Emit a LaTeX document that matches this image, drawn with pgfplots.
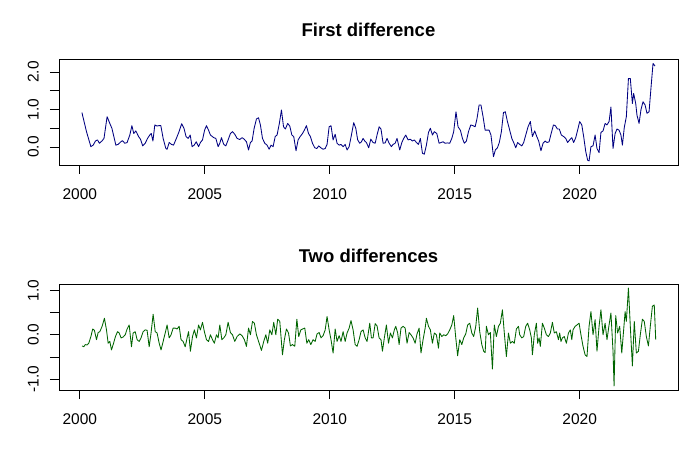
\documentclass[border=0pt]{standalone}
\usepackage{pgfplots}
\pgfplotsset{compat=1.18}
\usepackage{pgfplotstable}
\usepackage{fontspec}
\setmainfont{Liberation Sans}
\definecolor{rnavy}{HTML}{000080}
\definecolor{rdarkgreen}{HTML}{006400}

% k = month index (k=0 is Feb 2000), v = value
\pgfplotstableread{
k v
0 0.92
2.2 0.41
4.3 0.01
5.4 0.05
6.5 0.16
7.5 0.19
8.4 0.10
9.6 0.16
10.6 0.23
12.1 0.81
13.4 0.63
14.4 0.50
16.3 0.05
17.4 0.07
18.7 0.14
19.5 0.17
20.6 0.10
21.7 0.12
23.0 0.32
24.0 0.57
24.9 0.36
25.9 0.43
27.2 0.28
28.1 0.21
29.2 0.03
30.4 0.10
31.5 0.23
32.6 0.32
33.3 0.36
34.1 0.16
35.0 0.59
36.0 0.56
36.9 0.57
37.9 0.57
39.0 0.23
40.3 -0.04
40.9 -0.06
41.9 0.12
43.0 0.07
44.0 0.05
45.2 0.21
46.5 0.39
47.9 0.62
49.0 0.50
50.0 0.28
51.0 0.23
52.0 0.32
52.9 0.01
53.9 0.05
54.9 0.14
56.0 0.01
56.9 0.12
57.9 0.19
58.9 0.45
59.8 0.57
60.8 0.45
61.7 0.32
63.3 0.25
64.3 0.23
65.4 0.01
66.2 0.10
67.0 0.25
68.1 0.07
69.1 0.03
70.2 0.19
71.3 0.36
72.3 0.41
73.4 0.34
74.5 0.23
75.8 0.20
76.9 0.25
77.9 0.21
79.0 0.14
80.0 -0.08
80.9 0.12
81.7 0.16
82.7 0.50
83.8 0.75
84.8 0.78
85.7 0.59
86.7 0.23
87.8 0.10
88.9 0.05
89.9 -0.06
90.8 0.05
91.8 0.01
92.8 0.28
93.7 0.32
94.8 0.63
95.8 0.99
96.8 0.54
97.7 0.48
98.8 0.63
99.8 0.56
100.8 0.32
101.7 0.28
102.8 -0.10
103.8 0.19
104.8 0.28
105.9 0.36
106.8 0.45
107.8 0.57
108.8 0.36
109.7 0.28
110.7 0.10
111.8 -0.02
112.8 -0.04
113.7 0.03
114.7 -0.02
115.8 -0.06
116.8 -0.04
117.7 0.07
118.7 0.54
119.6 0.57
120.6 0.19
121.6 0.34
122.5 0.10
123.5 0.05
124.4 0.07
125.4 0.01
126.4 0.07
127.3 -0.08
128.3 0.01
129.4 0.32
130.5 0.65
131.5 0.50
132.4 0.19
133.4 0.10
134.2 0.14
135.0 0.23
135.8 0.16
136.6 0.12
137.7 -0.02
138.7 0.21
139.8 0.12
140.8 0.10
141.7 0.32
142.7 0.54
143.6 0.48
144.6 0.10
145.6 0.11
146.5 0.23
147.5 0.10
148.6 0.01
149.4 0.07
150.4 0.10
151.3 0.23
152.6 -0.08
153.6 0.12
154.5 0.23
155.5 0.32
156.6 0.19
157.6 0.21
158.7 0.16
159.6 0.19
160.6 0.12
161.6 0.07
162.5 0.23
163.5 -0.17
164.4 -0.19
165.4 0.05
166.4 0.39
167.3 0.50
168.3 0.32
169.2 0.41
170.4 0.36
171.5 0.10
172.4 0.12
173.4 0.14
174.4 0.10
175.5 0.11
176.6 0.10
177.6 0.23
178.5 0.41
179.6 0.94
180.6 0.54
181.7 0.45
182.7 0.23
183.6 0.10
184.6 0.16
185.6 0.41
186.7 0.59
187.8 0.57
188.8 0.54
189.7 0.76
190.7 1.12
191.6 1.12
192.6 0.81
193.6 0.45
194.5 0.45
195.5 0.45
196.4 0.32
197.6 -0.26
198.5 -0.08
199.5 -0.02
200.4 0.12
201.4 0.41
202.4 0.92
203.3 0.94
204.3 0.68
205.4 0.45
206.4 0.23
207.3 0.12
208.3 -0.02
209.2 0.12
210.2 0.07
211.2 0.03
212.1 0.12
213.1 0.32
214.2 0.54
215.3 0.68
216.3 0.28
217.4 0.43
218.4 0.28
219.3 0.16
220.4 -0.10
221.4 0.10
222.4 0.16
223.3 0.12
224.3 0.14
225.2 0.34
226.4 0.59
227.3 0.57
228.3 0.48
229.2 0.48
230.2 0.32
231.3 0.28
232.3 0.23
233.2 0.12
234.2 0.19
235.2 0.25
236.1 0.12
237.1 0.25
238.0 0.45
239.0 0.68
240.0 0.59
240.9 0.28
241.9 -0.12
242.8 -0.35
243.5 -0.37
244.4 0.01
245.4 0.03
246.4 0.32
247.3 -0.04
248.3 -0.15
249.2 0.39
250.2 0.43
251.2 0.63
252.1 0.59
253.1 0.68
254.0 1.07
255.0 -0.04
256.0 0.36
256.9 0.48
257.9 0.45
258.8 0.32
259.5 0.05
260.4 0.52
261.4 0.81
262.4 1.83
263.3 1.83
264.3 1.16
264.9 1.43
265.9 1.16
266.5 0.85
267.5 0.63
268.4 0.99
269.4 1.21
270.4 1.12
271.3 0.90
272.3 0.94
273.2 1.56
274.2 2.23
275.2 2.16
}\firstdiff

\pgfplotstableread{
k v
0.1 -0.25
0.9 -0.27
1.6 -0.22
2.5 -0.23
3.3 -0.19
4.3 -0.04
5.2 0.13
6.0 0.10
7.0 -0.11
7.8 0.05
8.6 0.07
9.7 0.19
10.8 0.37
11.8 0.11
12.6 -0.19
13.4 -0.15
14.2 -0.34
15.2 -0.19
16.1 -0.04
17.1 0.07
17.9 0.04
18.8 -0.07
19.8 -0.05
20.8 0.00
21.7 0.13
22.7 0.22
23.8 -0.27
24.6 0.04
25.6 0.07
26.5 -0.11
27.5 -0.15
28.4 -0.07
29.4 0.07
30.4 0.11
31.3 0.10
32.3 -0.27
33.2 0.04
34.2 0.46
35.2 0.07
36.1 0.04
37.1 -0.19
38.0 -0.34
39.0 -0.15
40.0 0.04
40.9 0.22
41.9 -0.07
42.8 0.00
43.8 0.15
44.8 0.15
45.7 0.13
46.7 0.19
47.6 -0.11
48.6 -0.15
49.6 -0.27
50.5 -0.07
51.2 0.07
52.1 -0.37
53.1 -0.04
54.0 0.11
55.0 -0.07
56.0 0.22
56.9 0.11
57.9 0.28
58.8 0.07
59.8 -0.11
60.8 -0.15
61.7 0.00
62.7 -0.11
63.6 -0.19
64.6 0.00
65.4 -0.07
66.2 0.22
67.2 -0.11
68.1 -0.07
69.1 0.00
70.2 0.28
71.3 0.05
72.3 0.00
73.4 -0.15
74.5 -0.04
75.8 0.02
76.9 -0.02
78.0 -0.11
79.0 -0.26
80.0 0.15
80.9 0.00
81.9 0.30
82.8 0.26
83.8 0.00
85.1 -0.19
86.2 -0.35
87.3 -0.15
88.3 0.00
89.2 -0.19
90.2 0.11
91.2 0.00
92.1 0.28
93.1 0.00
94.0 0.35
95.0 0.30
96.3 -0.45
97.2 -0.11
98.2 0.13
99.2 0.04
100.1 -0.25
101.1 -0.22
102.2 -0.26
103.2 0.35
104.1 -0.04
105.1 0.11
106.0 0.13
107.0 0.15
108.0 -0.19
108.9 -0.11
109.9 -0.22
111.0 -0.11
112.0 -0.15
112.9 0.02
113.9 0.05
114.8 -0.07
115.8 -0.02
116.8 0.11
117.7 0.41
118.7 0.11
119.6 -0.11
120.6 -0.41
121.6 0.13
122.5 -0.15
123.5 -0.02
124.4 -0.15
125.4 0.07
126.4 -0.15
127.3 0.04
128.3 0.15
129.2 0.32
130.2 0.11
131.2 -0.22
132.1 -0.26
133.1 -0.11
134.0 0.07
135.0 0.11
136.0 -0.07
136.9 -0.15
138.2 0.26
139.0 -0.07
139.8 -0.07
140.8 0.25
141.7 0.20
142.7 -0.07
143.6 -0.11
144.3 -0.37
145.2 -0.07
146.2 0.22
147.2 -0.19
148.1 0.04
149.1 -0.07
150.0 0.11
150.7 0.19
151.6 0.04
152.3 -0.22
153.2 0.15
154.2 0.19
155.2 0.15
156.1 -0.19
157.1 0.05
158.0 0.00
159.0 -0.07
160.0 -0.19
160.9 0.02
161.9 0.15
162.8 -0.41
163.8 -0.11
164.8 0.15
165.4 0.37
166.4 0.19
167.3 0.11
168.3 -0.19
169.2 0.04
170.2 0.00
171.2 -0.30
171.8 0.04
172.8 -0.04
173.7 0.00
174.7 -0.02
175.6 0.02
176.6 0.11
177.6 0.22
178.5 0.43
179.5 -0.07
180.4 -0.47
181.4 -0.11
182.4 -0.22
183.3 -0.07
184.3 0.02
185.2 0.22
186.2 0.26
187.2 0.04
188.1 -0.04
189.1 0.19
190.0 0.60
191.0 0.07
192.0 -0.22
192.9 -0.37
193.6 -0.40
194.2 0.19
195.2 0.00
196.1 0.05
197.1 -0.77
198.0 0.22
199.0 -0.04
200.0 0.19
200.9 0.26
201.9 0.56
202.8 0.04
203.8 -0.49
204.8 0.04
205.7 -0.19
206.7 -0.15
207.6 -0.19
208.6 0.13
209.6 0.19
210.2 0.00
211.2 -0.07
212.1 -0.04
213.1 0.19
214.0 0.26
215.0 0.11
215.8 -0.07
216.3 -0.45
217.2 0.00
218.2 0.26
218.8 -0.19
219.5 -0.07
220.1 -0.26
221.1 0.26
222.0 0.15
223.0 0.00
224.0 -0.04
224.9 0.04
225.9 0.28
226.8 0.04
227.8 0.07
228.8 -0.11
229.4 0.04
230.0 -0.15
230.7 -0.07
231.6 -0.04
232.6 -0.19
233.6 0.04
234.5 0.11
235.2 -0.11
235.8 0.11
236.8 0.19
237.7 0.22
238.7 0.26
239.6 0.00
240.6 -0.26
241.6 -0.45
242.5 -0.49
243.5 0.19
244.4 0.52
245.4 0.00
246.4 0.34
247.3 -0.37
248.3 0.19
249.2 0.56
250.2 0.00
251.2 0.26
252.1 -0.11
253.1 0.22
254.0 0.49
255.0 -0.37
255.5 -1.15
256.3 0.43
257.2 0.04
258.2 0.19
259.2 -0.41
260.1 0.11
260.8 0.52
261.4 0.30
262.4 1.05
263.3 0.19
264.3 -0.70
265.2 0.30
266.2 -0.41
267.2 -0.37
268.1 0.00
269.1 0.35
270.0 0.30
271.0 -0.04
272.0 -0.25
272.9 0.19
273.9 0.64
274.8 0.67
275.5 -0.11
}\twodiff

\pgfplotsset{
  rbase/.style={
    scale only axis,
    width=619pt, height=106pt,
    xmin=-11, xmax=286.2,
    xtick={-1,59,119,179,239},
    xticklabels={2000,2005,2010,2015,2020},
    xtick pos=bottom, ytick pos=left,
    tick align=outside,
    major tick length=9pt,
    axis line style={line width=0.9pt, black},
    every tick/.style={black, line width=0.8pt},
    tick label style={font=\fontsize{15.5}{18}\selectfont, inner sep=0pt},
    xticklabel style={anchor=north, yshift=-14pt},
    yticklabel style={rotate=90, anchor=south, yshift=11pt},
    title style={font=\bfseries\fontsize{18.5}{22}\selectfont, at={(0.5,1)}, anchor=base, yshift=16pt, inner sep=0pt},
  }
}

\begin{document}
\begin{tikzpicture}
\useasboundingbox (0pt,0pt) rectangle (700pt,450pt);
\begin{axis}[rbase,
  at={(59pt,285pt)}, anchor=south west,
  title={First difference},
  ymin=-0.48, ymax=2.35,
  ytick={0,0.5,1,1.5,2},
  yticklabels={0.0,,1.0,,2.0},
]
\addplot[rnavy, line width=0.85pt, line join=round] table[x=k, y=v] {\firstdiff};
\end{axis}
\begin{axis}[rbase,
  at={(59pt,60pt)}, anchor=south west,
  title={Two differences},
  ymin=-1.24, ymax=1.14,
  ytick={-1,-0.5,0,0.5,1},
  yticklabels={-1.0,,0.0,,1.0},
]
\addplot[rdarkgreen, line width=0.85pt, line join=round] table[x=k, y=v] {\twodiff};
\end{axis}
\end{tikzpicture}
\end{document}
